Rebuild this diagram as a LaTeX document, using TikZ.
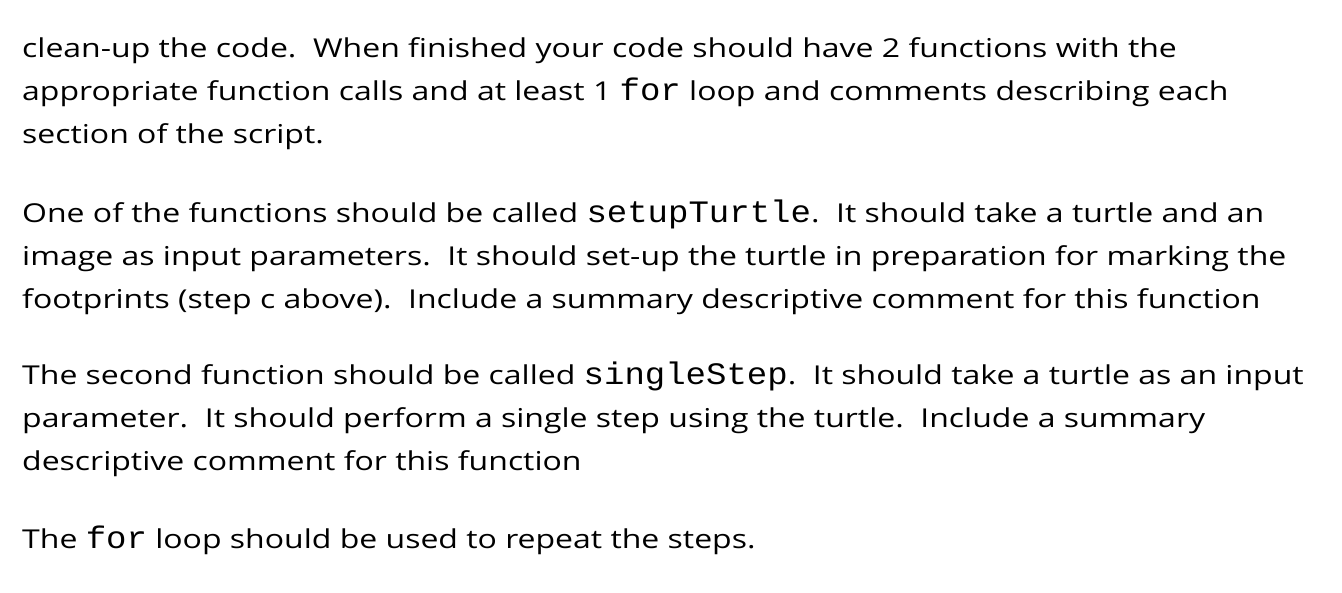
\documentclass[tikz,border=0pt]{standalone}
\usepackage{fontspec}
\setmainfont[FakeStretch=1.23]{Open Sans}
\setmonofont[Scale=1.2,FakeStretch=1.09]{Liberation Mono}
\begin{document}
\begin{tikzpicture}[x=1pt,y=1pt,
  ln/.style={anchor=base west,inner sep=0pt,font=\fontsize{26}{32}\selectfont}]
\useasboundingbox (0,0) rectangle (1342,-592);
\node[ln] (l1) at (22,-57) {clean-up the code.\ \ When finished your code should have 2 functions with the};
\node[ln] (l2) at (22,-100) {appropriate function calls and at least 1 \texttt{for} loop and comments describing each};
\node[ln] (l3) at (22,-143) {section of the script.};
\node[ln] (l4) at (22,-222) {One of the functions should be called \texttt{setupTurtle}.\ \ It should take a turtle and an};
\node[ln] (l5) at (22,-265) {image as input parameters.\ \ It should set-up the turtle in preparation for marking the};
\node[ln] (l6) at (22,-308) {footprints (step c above).\ \ Include a summary descriptive comment for this function};
\node[ln] (l7) at (22,-384) {The second function should be called \texttt{singleStep}.\ \ It should take a turtle as an input};
\node[ln] (l8) at (22,-427) {parameter.\ \ It should perform a single step using the turtle.\ \ Include a summary};
\node[ln] (l9) at (22,-470) {descriptive comment for this function};
\node[ln] (l10) at (22,-548) {The \texttt{for} loop should be used to repeat the steps.};
\end{tikzpicture}
\end{document}
